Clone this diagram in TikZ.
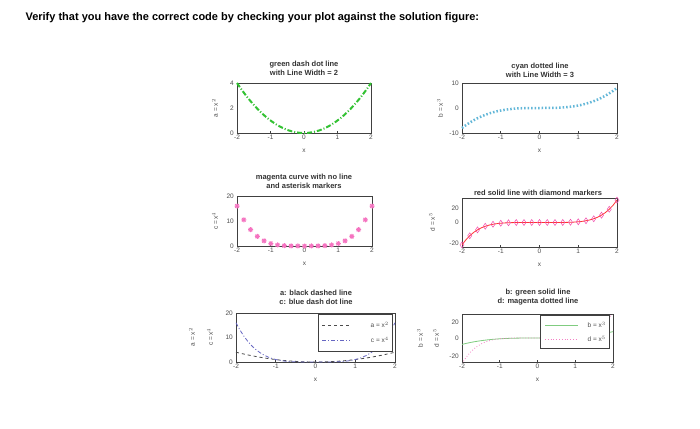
\documentclass[tikz,border=0pt]{standalone}
\usepackage{fontspec}
\setmainfont{Liberation Sans}
\begin{document}
\begin{tikzpicture}[x=1pt,y=-1pt,
  ax/.style={draw=black!75,line width=0.6pt},
  tick/.style={font=\fontsize{6.5}{7}\selectfont,text=black!70,inner sep=1pt},
  ttl/.style={font=\bfseries\fontsize{7.5}{9}\selectfont,text=black!80,align=center},
  yl/.style={font=\fontsize{6.5}{7}\selectfont,text=black!70,rotate=90}]
\useasboundingbox (0,0) rectangle (700,428);
\fill[white] (0,0) rectangle (700,428);
\node[anchor=west,font=\bfseries\fontsize{11}{13}\selectfont] (head) at (22,18) {Verify that you have the correct code by checking your plot against the solution figure:};
\newcommand\myaxes[4]{%
  \draw[ax] (#1,#3) rectangle (#2,#4);
  \foreach \k in {-2,-1,0,1,2}{%
    \pgfmathsetmacro\xx{#1+(\k+2)*(#2-#1)/4}
    \draw[ax] (\xx,#4) -- (\xx,#4-2);
    \node[tick,anchor=north] at (\xx,#4+1) {\k};}
  \node[tick] at ({(#1+#2)/2},#4+18) {x};}
% ---- plot 1
\myaxes{237}{371}{83}{133}
\foreach \v/\yy in {0/133,2/108,4/83}{\node[tick,anchor=east] at (235,\yy) {\v};}
\node[yl] at (215,108) {a = x$^2$};
\node[ttl] at (304,68) {green dash dot line\\with Line Width = 2};
\begin{scope}[shift={(304,133)},x=33.5pt,y=12.5pt]
\draw[green!70!black!80,line width=2pt,dash pattern=on 5pt off 2pt on 1pt off 2pt] plot[domain=-2:2,samples=40] (\x,{\x*\x});
\end{scope}
% ---- plot 2
\myaxes{462}{617}{83}{133}
\foreach \v/\yy in {-10/133,0/108,10/83}{\node[tick,anchor=east] at (460,\yy) {\v};}
\node[yl] at (440,108) {b = x$^3$};
\node[ttl] at (540,70) {cyan dotted line\\with Line Width = 3};
\begin{scope}[shift={(539.5,108)},x=38.75pt,y=2.5pt]
\draw[cyan!80!black!70,line width=2.5pt,dash pattern=on 1.5pt off 2pt] plot[domain=-2:2,samples=40] (\x,{\x*\x*\x});
\end{scope}
% ---- plot 3
\myaxes{237}{372}{196}{246}
\foreach \v/\yy in {0/246,10/221,20/196}{\node[tick,anchor=east] at (235,\yy) {\v};}
\node[yl] at (215,221) {c = x$^4$};
\node[ttl] at (304,181) {magenta curve with no line\\and asterisk markers};
\begin{scope}[shift={(304.5,246)},x=33.75pt,y=2.5pt]
\foreach \i in {0,...,20}{\pgfmathsetmacro\t{-2+\i*0.2}
  \draw[magenta!55,line width=1pt] (\t,{\t*\t*\t*\t}) +(-2.5pt,0) -- +(2.5pt,0) +(0,-2.5pt) -- +(0,2.5pt) +(-1.8pt,-1.8pt) -- +(1.8pt,1.8pt) +(-1.8pt,1.8pt) -- +(1.8pt,-1.8pt);}
\end{scope}
% ---- plot 4
\myaxes{462}{617}{198}{247}
\foreach \v/\yy in {-20/243,0/222.5,20/208}{\node[tick,anchor=east] at (460,\yy) {\v};}
\node[yl] at (432,222) {d = x$^5$};
\node[ttl] at (538,193) {red solid line with diamond markers};
\begin{scope}[shift={(539.5,222.5)},x=38.75pt,y=0.7pt]
\draw[red!80,line width=0.8pt] plot[domain=-2:2,samples=40] (\x,{\x*\x*\x*\x*\x});
\foreach \i in {0,...,20}{\pgfmathsetmacro\t{-2+\i*0.2}
  \draw[magenta!70,line width=0.5pt] (\t,{\t*\t*\t*\t*\t}) ++(0,3pt) -- ++(2pt,-3pt) -- ++(-2pt,-3pt) -- ++(-2pt,3pt) -- cycle;}
\end{scope}
% ---- plot 5
\myaxes{236}{395}{313}{362}
\foreach \v/\yy in {0/362,10/337.5,20/313}{\node[tick,anchor=east] at (234,\yy) {\v};}
\node[yl] at (192,337) {a = x$^2$};
\node[yl] at (210,337) {c = x$^4$};
\node[ttl] at (316,297) {a: black dashed line\\c: blue dash dot line};
\begin{scope}[shift={(315.5,362)},x=39.75pt,y=2.45pt]
\draw[black!70,line width=0.8pt,dashed] plot[domain=-2:2,samples=40] (\x,{\x*\x});
\draw[blue!60!black!60,line width=0.8pt,dash pattern=on 4pt off 2pt on 1pt off 2pt] plot[domain=-2:2,samples=40] (\x,{\x*\x*\x*\x});
\end{scope}
\draw[ax,fill=white] (318,314) rectangle (392,351);
\draw[black!70,dashed,line width=0.8pt] (322,325) -- (350,325);
\node[tick,anchor=east] at (390,325) {a = x$^2$};
\draw[blue!60!black!60,line width=0.8pt,dash pattern=on 4pt off 2pt on 1pt off 2pt] (322,340) -- (350,340);
\node[tick,anchor=east] at (390,340) {c = x$^4$};
% ---- plot 6
\myaxes{462}{613}{314}{362}
\foreach \v/\yy in {-20/356,0/338,20/322}{\node[tick,anchor=east] at (460,\yy) {\v};}
\node[yl] at (420,338) {b = x$^3$};
\node[yl] at (436,338) {d = x$^5$};
\node[ttl] at (538,297) {b: green solid line\\d: magenta dotted line};
\begin{scope}[shift={(537.5,338)},x=37.75pt,y=0.8pt]
\draw[green!60!black!50,line width=0.8pt] plot[domain=-2:2,samples=40] (\x,{\x*\x*\x});
\begin{scope}\clip (-2,-30) rectangle (2,30);
\draw[magenta!50,line width=0.8pt,dotted] plot[domain=-2:2,samples=40] (\x,{\x*\x*\x*\x*\x});\end{scope}
\end{scope}
\draw[ax,fill=white] (540,315) rectangle (609,348);
\draw[green!60!black!50,line width=0.8pt] (545,325) -- (578,325);
\node[tick,anchor=east] at (607,325) {b = x$^3$};
\draw[magenta!50,line width=0.8pt,dotted] (545,339) -- (578,339);
\node[tick,anchor=east] at (607,339) {d = x$^5$};
\end{tikzpicture}
\end{document}
